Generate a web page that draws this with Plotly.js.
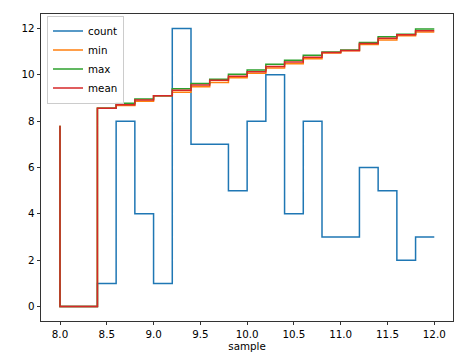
<!DOCTYPE html>
<html>
<head>
<meta charset="utf-8">
<script src="https://cdn.plot.ly/plotly-3.0.1.min.js"></script>
<style>html,body{margin:0;padding:0;background:#fff;}#chart{width:474px;height:364px;}</style>
</head>
<body>
<div id="chart"></div>
<script>
// bin labels (sample)
const sampleX = [8.0, 8.2, 8.4, 8.6, 8.8, 9.0, 9.2, 9.4, 9.6, 9.8, 10.0,
                 10.2, 10.4, 10.6, 10.8, 11.0, 11.2, 11.4, 11.6, 11.8, 12.0];
const countVals = [1, 0, 0, 1, 8, 4, 1, 12, 7, 7, 5, 8, 10, 4, 8, 3, 3, 6, 5, 2, 3];
const minVals  = [7.8, 0, 0, 8.56, 8.67, 8.86, 9.09, 9.25, 9.48, 9.67, 9.87,
                  10.07, 10.29, 10.47, 10.69, 10.94, 11.03, 11.31, 11.50, 11.68, 11.84];
const maxVals  = [7.8, 0, 0, 8.56, 8.77, 8.95, 9.09, 9.40, 9.62, 9.81, 10.02,
                  10.20, 10.45, 10.62, 10.84, 10.98, 11.07, 11.39, 11.64, 11.75, 11.97];
const meanVals = [7.8, 0, 0, 8.56, 8.71, 8.91, 9.09, 9.33, 9.56, 9.76, 9.93,
                  10.13, 10.36, 10.55, 10.76, 10.96, 11.05, 11.35, 11.57, 11.72, 11.90];
const seriesNames = ['count', 'min', 'max', 'mean'];
const xTickVals = [8.0, 8.5, 9.0, 9.5, 10.0, 10.5, 11.0, 11.5, 12.0];
const xTickText = ['8.0', '8.5', '9.0', '9.5', '10.0', '10.5', '11.0', '11.5', '12.0'];
const yTickVals = [0, 2, 4, 6, 8, 10, 12];

const colors = ['#1f77b4', '#ff7f0e', '#2ca02c', '#d62728'];
const seriesVals = [countVals, minVals, maxVals, meanVals];

const traces = seriesVals.map((vals, i) => ({
  type: 'scatter',
  mode: 'lines',
  x: sampleX,
  y: vals,
  name: seriesNames[i],
  line: {shape: 'vh', color: colors[i], width: 1.5}
}));

const font = {family: 'DejaVu Sans, sans-serif', size: 10.3, color: '#000'};

const layout = {
  width: 474,
  height: 364,
  margin: {l: 41, r: 21, t: 14, b: 43, pad: 0},
  paper_bgcolor: '#fff',
  plot_bgcolor: '#fff',
  font: font,
  showlegend: true,
  legend: {
    x: 0.0146, y: 0.995, xanchor: 'left', yanchor: 'top',
    bgcolor: 'rgba(255,255,255,0.8)', bordercolor: '#cccccc', borderwidth: 1,
    font: {family: 'DejaVu Sans, sans-serif', size: 10.3, color: '#000'},
    itemwidth: 30, tracegroupgap: 0
  },
  xaxis: {
    range: [7.797, 12.2],
    tickvals: xTickVals, ticktext: xTickText,
    ticks: 'outside', ticklen: 3.5, tickwidth: 0.8, tickcolor: '#000',
    showline: true, linecolor: '#000', linewidth: 0.8, mirror: true,
    showgrid: false, zeroline: false,
    title: {text: 'sample', font: font, standoff: 4},
    tickfont: font
  },
  yaxis: {
    range: [-0.62, 12.62],
    tickvals: yTickVals,
    ticks: 'outside', ticklen: 3.5, tickwidth: 0.8, tickcolor: '#000',
    showline: true, linecolor: '#000', linewidth: 0.8, mirror: true,
    showgrid: false, zeroline: false,
    tickfont: font
  }
};

Plotly.newPlot('chart', traces, layout, {displayModeBar: false, staticPlot: true});
</script>
</body>
</html>
